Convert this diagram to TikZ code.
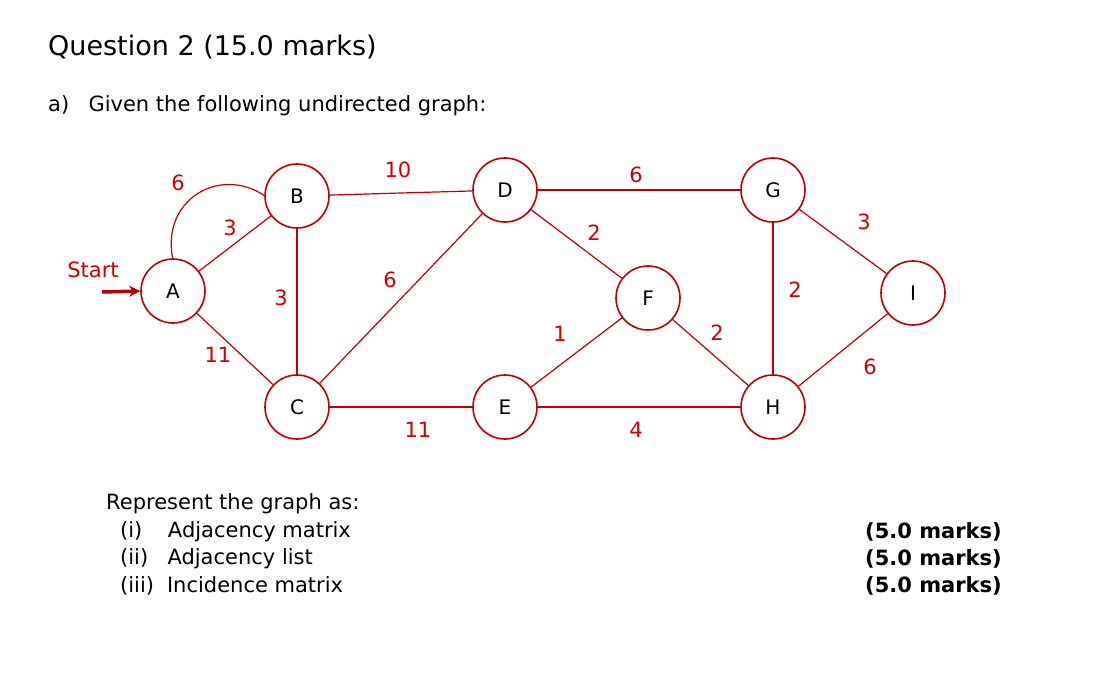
\documentclass[tikz,border=0pt]{standalone}
\usepackage{fontspec}
\usetikzlibrary{arrows.meta}
\setmainfont{DejaVu Sans}
\begin{document}
\begin{tikzpicture}[x=1pt,y=-1pt,
  vtx/.style={circle,draw=red!75!black,line width=1.6pt,fill=white,minimum size=64pt,inner sep=0pt,font=\fontsize{20}{20}\selectfont},
  edge/.style={draw=red!75!black,line width=1.2pt},
  wt/.style={text=red!80!black,font=\fontsize{21}{21}\selectfont},
  txt/.style={anchor=west,inner sep=0pt,font=\fontsize{21}{24}\selectfont}]
\useasboundingbox (0,0) rectangle (1101,686);
\node[anchor=west,inner sep=0pt,font=\fontsize{27}{30}\selectfont] (title) at (48,47) {Question 2 (15.0 marks)};
\node[txt] (qa) at (48,106) {a)\hspace{0.6em} Given the following undirected graph:};
\draw[edge] (173,260) .. controls (160,200) and (220,165) .. (265,196);
\draw[edge] (173,291) -- (297,196);
\node[vtx] (A) at (173,291) {A};
\node[vtx] (B) at (297,196) {B};
\node[vtx] (C) at (297,407) {C};
\node[vtx] (D) at (505,190) {D};
\node[vtx] (E) at (505,407) {E};
\node[vtx] (F) at (648,298) {F};
\node[vtx] (G) at (773,190) {G};
\node[vtx] (H) at (773,407) {H};
\node[vtx] (I) at (913,293) {I};
\draw[edge] (A) -- (C);
\draw[edge] (B) -- (C);
\draw[edge] (B) -- (D);
\draw[edge] (C) -- (D);
\draw[edge] (C) -- (E);
\draw[edge] (D) -- (F);
\draw[edge] (D) -- (G);
\draw[edge] (E) -- (F);
\draw[edge] (E) -- (H);
\draw[edge] (F) -- (H);
\draw[edge] (G) -- (H);
\draw[edge] (G) -- (I);
\draw[edge] (H) -- (I);
\node[wt] (w1) at (178,183) {6};
\node[wt] (w2) at (230,228) {3};
\node[wt] (w3) at (218,355) {11};
\node[wt] (w4) at (281,298) {3};
\node[wt] (w5) at (398,170) {10};
\node[wt] (w6) at (390,280) {6};
\node[wt] (w7) at (418,430) {11};
\node[wt] (w8) at (594,233) {2};
\node[wt] (w9) at (636,175) {6};
\node[wt] (w10) at (560,334) {1};
\node[wt] (w11) at (636,430) {4};
\node[wt] (w12) at (717,333) {2};
\node[wt] (w13) at (795,290) {2};
\node[wt] (w14) at (864,222) {3};
\node[wt] (w15) at (870,367) {6};
\node[wt] (st) at (93,270) {Start};
\coordinate (s0) at (102,292);
\draw[draw=red!70!black,line width=3.5pt,-{Stealth[length=11pt,width=11pt]}] (s0) -- (A.west);
\node[txt] (r0) at (106,504) {Represent the graph as:};
\node[txt] (r1) at (120,532) {(i)\hspace{0.9em} Adjacency matrix};
\node[txt] (r2) at (120,559) {(ii)\hspace{0.6em} Adjacency list};
\node[txt] (r3) at (120,586) {(iii)\hspace{0.3em} Incidence matrix};
\node[txt,font=\fontsize{21}{24}\selectfont\bfseries] (m1) at (865,532) {(5.0 marks)};
\node[txt,font=\fontsize{21}{24}\selectfont\bfseries] (m2) at (865,559) {(5.0 marks)};
\node[txt,font=\fontsize{21}{24}\selectfont\bfseries] (m3) at (865,586) {(5.0 marks)};
\end{tikzpicture}
\end{document}
